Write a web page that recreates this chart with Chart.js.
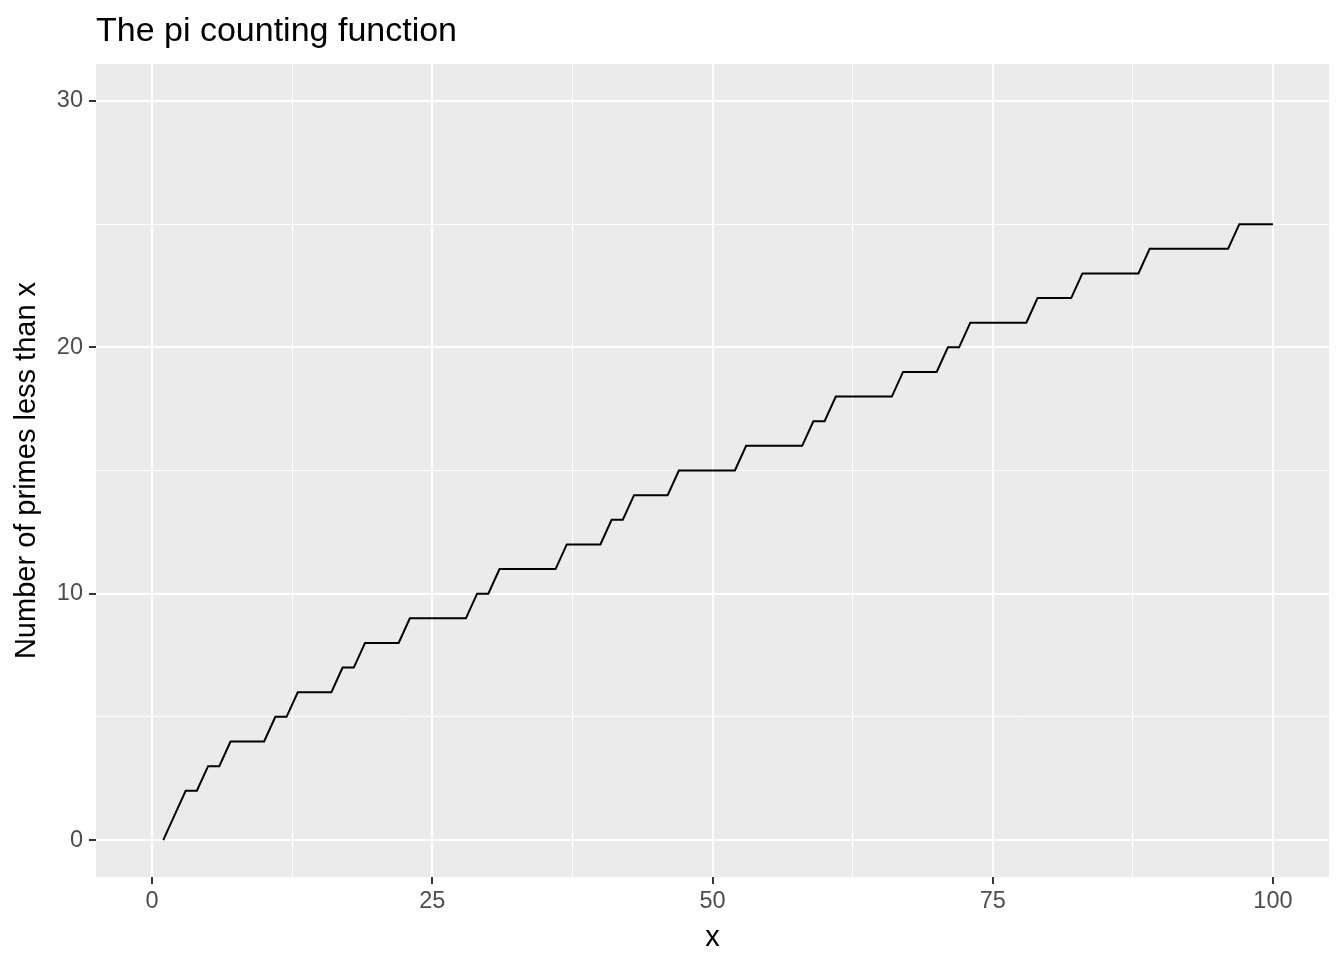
<!DOCTYPE html>
<html>
<head>
<meta charset="utf-8">
<title>The pi counting function</title>
<script src="https://cdn.jsdelivr.net/npm/chart.js@4.4.1/dist/chart.umd.min.js"></script>
<style>
  html, body { margin: 0; padding: 0; background: #fff; }
  #wrap { width: 1344px; height: 960px; }
</style>
</head>
<body>
<div id="wrap"><canvas id="chart" width="1344" height="960"></canvas></div>
<script>
// x values and pi(x)
const xs = [1, 2, 3, 4, 5, 6, 7, 8, 9, 10,
    11, 12, 13, 14, 15, 16, 17, 18, 19, 20,
    21, 22, 23, 24, 25, 26, 27, 28, 29, 30,
    31, 32, 33, 34, 35, 36, 37, 38, 39, 40,
    41, 42, 43, 44, 45, 46, 47, 48, 49, 50,
    51, 52, 53, 54, 55, 56, 57, 58, 59, 60,
    61, 62, 63, 64, 65, 66, 67, 68, 69, 70,
    71, 72, 73, 74, 75, 76, 77, 78, 79, 80,
    81, 82, 83, 84, 85, 86, 87, 88, 89, 90,
    91, 92, 93, 94, 95, 96, 97, 98, 99, 100];
const primeCount = [0, 1, 2, 2, 3, 3, 4, 4, 4, 4,
    5, 5, 6, 6, 6, 6, 7, 7, 8, 8,
    8, 8, 9, 9, 9, 9, 9, 9, 10, 10,
    11, 11, 11, 11, 11, 11, 12, 12, 12, 12,
    13, 13, 14, 14, 14, 14, 15, 15, 15, 15,
    15, 15, 16, 16, 16, 16, 16, 16, 17, 17,
    18, 18, 18, 18, 18, 18, 19, 19, 19, 19,
    20, 20, 21, 21, 21, 21, 21, 21, 22, 22,
    22, 22, 23, 23, 23, 23, 23, 23, 24, 24,
    24, 24, 24, 24, 24, 24, 25, 25, 25, 25];

const xMajor = [0, 25, 50, 75, 100];
const xMinor = [12.5, 37.5, 62.5, 87.5];
const yMajor = [0, 10, 20, 30];
const yMinor = [5, 15, 25];

const FONT = '"Liberation Sans", Arial, Helvetica, sans-serif';

function gridTicks(major, minor) {
    return major.concat(minor).sort((a, b) => a - b).map(v => ({ value: v }));
}
function isMajor(list, v) {
    return list.indexOf(v) !== -1;
}

// grey panel + title drawn at panel's left edge
const panelPlugin = {
    id: 'panel',
    beforeDraw(chart) {
        const { ctx, chartArea } = chart;
        ctx.save();
        ctx.fillStyle = '#EBEBEB';
        ctx.fillRect(chartArea.left, chartArea.top, chartArea.right - chartArea.left, chartArea.bottom - chartArea.top);
        ctx.restore();
    },
    afterDraw(chart) {
        const { ctx, chartArea } = chart;
        ctx.save();
        ctx.fillStyle = '#000';
        ctx.font = '34px ' + FONT;
        ctx.textBaseline = 'alphabetic';
        ctx.textAlign = 'left';
        ctx.fillText('The pi counting function', chartArea.left, 41);
        ctx.restore();
    }
};

const points = xs.map((x, i) => ({ x: x, y: primeCount[i] }));

new Chart(document.getElementById('chart'), {
    type: 'line',
    data: {
        datasets: [{
            data: points,
            borderColor: '#000',
            borderWidth: 2,
            pointRadius: 0,
            tension: 0,
            fill: false
        }]
    },
    options: {
        responsive: false,
        animation: false,
        layout: { padding: { top: 64, right: 15, left: 0, bottom: 0 } },
        plugins: {
            legend: { display: false },
            tooltip: { enabled: false }
        },
        scales: {
            x: {
                type: 'linear',
                min: -5,
                max: 105,
                afterBuildTicks: s => { s.ticks = gridTicks(xMajor, xMinor); },
                afterFit: s => { s.height = 83; },
                border: { display: false },
                grid: {
                    color: '#FFFFFF',
                    lineWidth: c => isMajor(xMajor, c.tick.value) ? 2 : 1,
                    tickColor: c => isMajor(xMajor, c.tick.value) ? '#333333' : 'rgba(0,0,0,0)',
                    tickWidth: 2,
                    tickLength: 7
                },
                ticks: {
                    color: '#4D4D4D',
                    font: { family: FONT, size: 23.5 },
                    padding: 3,
                    maxRotation: 0,
                    autoSkip: false,
                    callback: v => isMajor(xMajor, v) ? String(v) : ''
                },
                title: {
                    display: true,
                    text: 'x',
                    color: '#000',
                    font: { family: FONT, size: 29 },
                    padding: { top: 0, bottom: 5 }
                }
            },
            y: {
                type: 'linear',
                min: -1.5,
                max: 31.5,
                afterBuildTicks: s => { s.ticks = gridTicks(yMajor, yMinor); },
                afterFit: s => { s.width = 96; },
                border: { display: false },
                grid: {
                    color: '#FFFFFF',
                    lineWidth: c => isMajor(yMajor, c.tick.value) ? 2 : 1,
                    tickColor: c => isMajor(yMajor, c.tick.value) ? '#333333' : 'rgba(0,0,0,0)',
                    tickWidth: 2,
                    tickLength: 7
                },
                ticks: {
                    color: '#4D4D4D',
                    font: { family: FONT, size: 23.5 },
                    padding: 6,
                    autoSkip: false,
                    callback: v => isMajor(yMajor, v) ? String(v) : ''
                },
                title: {
                    display: true,
                    text: 'Number of primes less than x',
                    color: '#000',
                    font: { family: FONT, size: 29 },
                    padding: { top: 10, bottom: 0 }
                }
            }
        }
    },
    plugins: [panelPlugin]
});
</script>
</body>
</html>
